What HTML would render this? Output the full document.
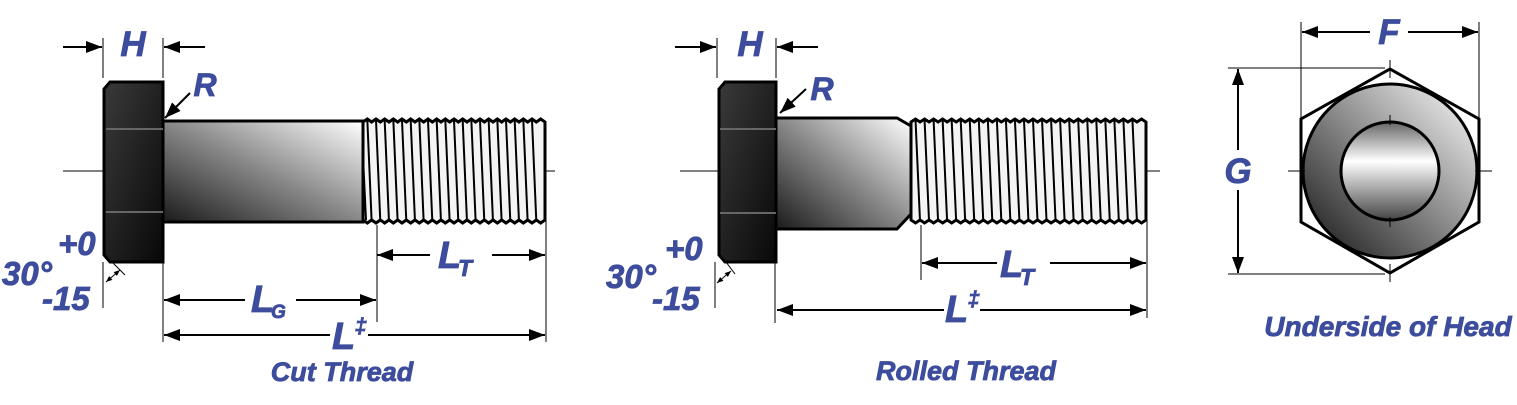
<!DOCTYPE html>
<html><head><meta charset="utf-8"><style>
html,body{margin:0;padding:0;background:#fff}
svg{display:block}
text{font-family:"Liberation Sans",sans-serif;font-weight:bold;font-style:italic;fill:#3d4c9c;stroke:#3d4c9c;stroke-width:0.8}
</style></head><body>
<svg id="s" width="1517" height="405" viewBox="0 0 1517 405" xmlns="http://www.w3.org/2000/svg">
<defs>
<linearGradient id="sh" x1="0" y1="1" x2="1" y2="0"><stop offset="0" stop-color="#1a1a1a"/><stop offset="0.5" stop-color="#888"/><stop offset="1" stop-color="#fff"/></linearGradient>
<linearGradient id="hd" x1="0" y1="0" x2="1" y2="1"><stop offset="0" stop-color="#3a3a3a"/><stop offset="1" stop-color="#080808"/></linearGradient>
<linearGradient id="ring" x1="0" y1="1" x2="1" y2="0"><stop offset="0" stop-color="#111"/><stop offset="0.5" stop-color="#888"/><stop offset="1" stop-color="#fff"/></linearGradient>
<linearGradient id="in" x1="0" y1="0" x2="0" y2="1"><stop offset="0" stop-color="#666"/><stop offset="0.4" stop-color="#fff"/><stop offset="1" stop-color="#444"/></linearGradient>
<marker id="a" viewBox="0 0 16 12" refX="16" refY="6" markerWidth="16" markerHeight="12" orient="auto-start-reverse" markerUnits="userSpaceOnUse"><path d="M0,0L16,6L0,12z" fill="#000"/></marker>
<marker id="b" viewBox="0 0 10 8" refX="10" refY="4" markerWidth="7" markerHeight="5" orient="auto-start-reverse" markerUnits="userSpaceOnUse"><path d="M0,0L10,4L0,8z" fill="#000"/></marker>
</defs>
<g stroke="#000" fill="none" stroke-width="1">
<!-- Cut thread bolt -->
<line x1="63" y1="171" x2="555" y2="171"/>
<rect x="163" y="121" width="200" height="101" fill="url(#sh)" stroke-width="3"/>
<path d="M110,82H163V262H110L104,255V89Z" fill="url(#hd)" stroke-width="3"/>
<path d="M106,129H163M106,212H163" stroke="#666" stroke-width="2"/>
<g id="t1"></g>
<line x1="103" y1="38" x2="103" y2="78"/><line x1="163" y1="38" x2="163" y2="78"/>
<line x1="63" y1="47" x2="102" y2="47" stroke-width="2" marker-end="url(#a)"/>
<line x1="205" y1="47" x2="164" y2="47" stroke-width="2" marker-end="url(#a)"/>
<line x1="190" y1="93" x2="165" y2="118" stroke-width="2" marker-end="url(#a)"/>
<line x1="103" y1="262" x2="103" y2="308"/><line x1="112" y1="262" x2="125" y2="275"/>
<line x1="106" y1="282" x2="120" y2="270" marker-end="url(#b)" marker-start="url(#b)"/>
<line x1="163" y1="225" x2="163" y2="342"/><line x1="377" y1="225" x2="377" y2="322"/><line x1="546" y1="215" x2="546" y2="342"/>
<line x1="377" y1="255" x2="430" y2="255" stroke-width="2" marker-start="url(#a)"/>
<line x1="492" y1="255" x2="545" y2="255" stroke-width="2" marker-end="url(#a)"/>
<line x1="164" y1="300" x2="245" y2="300" stroke-width="2" marker-start="url(#a)"/>
<line x1="296" y1="300" x2="376" y2="300" stroke-width="2" marker-end="url(#a)"/>
<line x1="164" y1="335" x2="330" y2="335" stroke-width="2" marker-start="url(#a)"/>
<line x1="368" y1="335" x2="545" y2="335" stroke-width="2" marker-end="url(#a)"/>

<!-- Rolled bolt -->
<line x1="680" y1="171" x2="1160" y2="171"/>
<path d="M776,118H897L911,126V214L897,229H776Z" fill="url(#sh)" stroke-width="3"/>
<path d="M725,82H776V262H725L719,255V89Z" fill="url(#hd)" stroke-width="3"/>
<path d="M720,129H776M720,213H776" stroke="#666" stroke-width="2"/>
<g id="t2"></g>
<line x1="717" y1="38" x2="717" y2="78"/><line x1="776" y1="38" x2="776" y2="78"/>
<line x1="675" y1="47" x2="716" y2="47" stroke-width="2" marker-end="url(#a)"/>
<line x1="818" y1="47" x2="777" y2="47" stroke-width="2" marker-end="url(#a)"/>
<line x1="806" y1="89" x2="780" y2="113" stroke-width="2" marker-end="url(#a)"/>
<line x1="715" y1="262" x2="715" y2="308"/><line x1="726" y1="262" x2="735" y2="274"/>
<line x1="717" y1="283" x2="731" y2="271" marker-end="url(#b)" marker-start="url(#b)"/>
<line x1="775" y1="225" x2="775" y2="323"/><line x1="921" y1="225" x2="921" y2="280"/><line x1="1147" y1="215" x2="1147" y2="318"/>
<line x1="922" y1="263" x2="997" y2="263" stroke-width="2" marker-start="url(#a)"/>
<line x1="1050" y1="263" x2="1146" y2="263" stroke-width="2" marker-end="url(#a)"/>
<line x1="777" y1="310" x2="944" y2="310" stroke-width="2" marker-start="url(#a)"/>
<line x1="980" y1="310" x2="1146" y2="310" stroke-width="2" marker-end="url(#a)"/>

<!-- Hex -->
<line x1="1301" y1="22" x2="1301" y2="118"/><line x1="1479" y1="22" x2="1479" y2="118"/>
<line x1="1302" y1="32" x2="1370" y2="32" stroke-width="2" marker-start="url(#a)"/>
<line x1="1408" y1="32" x2="1478" y2="32" stroke-width="2" marker-end="url(#a)"/>
<line x1="1228" y1="68" x2="1385" y2="68"/><line x1="1228" y1="274" x2="1385" y2="274"/>
<line x1="1238" y1="69" x2="1238" y2="150" stroke-width="2" marker-start="url(#a)"/>
<line x1="1238" y1="190" x2="1238" y2="273" stroke-width="2" marker-end="url(#a)"/>
<path d="M1390,69L1479,119V222L1390,273L1301,222V119Z" fill="#fff" stroke-width="3"/>
<circle cx="1390" cy="171" r="87" fill="url(#ring)" stroke-width="3"/>
<circle cx="1390" cy="171" r="49" fill="url(#in)" stroke-width="3"/>
<path d="M1288,171H1305M1475,171H1492M1390,60V78M1390,264V282M1390,115V125M1390,217V227"/>
</g>
<text x="133" y="56" font-size="35" text-anchor="middle">H</text>
<text x="205" y="96" font-size="32" text-anchor="middle">R</text>
<text x="58" y="255" font-size="33">+0</text>
<text x="2" y="285" font-size="33">30°</text>
<text x="42" y="310" font-size="33">-15</text>
<text x="438" y="268" font-size="38">L</text><text x="458" y="276" font-size="23">T</text>
<text x="251" y="312" font-size="38">L</text><text x="271" y="318" font-size="19">G</text>
<text x="332" y="349" font-size="38">L</text><text x="355" y="333" font-size="21">‡</text>
<text x="342" y="381" font-size="27" text-anchor="middle">Cut Thread</text>

<text x="750" y="56" font-size="35" text-anchor="middle">H</text>
<text x="822" y="100" font-size="32" text-anchor="middle">R</text>
<text x="665" y="260" font-size="33">+0</text>
<text x="606" y="288" font-size="33">30°</text>
<text x="652" y="310" font-size="33">-15</text>
<text x="1000" y="277" font-size="38">L</text><text x="1020" y="285" font-size="23">T</text>
<text x="945" y="322" font-size="38">L</text><text x="968" y="306" font-size="21">‡</text>
<text x="966" y="380" font-size="27" text-anchor="middle">Rolled Thread</text>

<text x="1389" y="44" font-size="35" text-anchor="middle">F</text>
<text x="1238" y="183" font-size="35" text-anchor="middle">G</text>
<text x="1388" y="336" font-size="28" text-anchor="middle">Underside of Head</text>
</svg>
<script>
function thr(id,x0,x1,top,bot,n,cut){
  var g=document.getElementById(id),p=(x1-x0)/n,s="";
  var d="M"+x0+","+top;
  for(var i=0;i<n;i++){var x=x0+i*p;d+="L"+(x+p/2)+","+(top-3)+"L"+(x+p)+","+top;}
  d+="L"+x1+","+bot;
  for(var i=n;i>0;i--){var x=x0+i*p;d+="L"+(x-p/2)+","+(bot+3)+"L"+(x-p)+","+bot;}
  d+="Z";
  s+='<path d="'+d+'" fill="#f4f4f4" stroke="#000" stroke-width="3"/>';
  for(var i=0;i<n-1;i++){var x=x0+i*p;s+='<line x1="'+(x+p/2)+'" y1="'+(top-2)+'" x2="'+(x+p)+'" y2="'+(bot+2)+'" stroke="#000" stroke-width="2"/>';}
  if(cut)s+='<path d="M'+x0+','+(top+35)+'L'+(x0+3)+','+bot+'" stroke="#000" stroke-width="2"/>';
  g.innerHTML=s;
}
thr("t1",363,545,122,220,21,true);
thr("t2",911,1146,122,220,26,false);
</script>
</body></html>
